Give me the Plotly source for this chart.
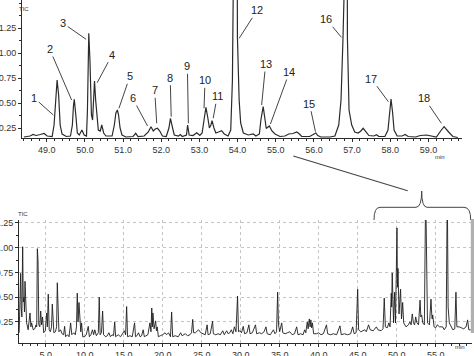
import plotly.graph_objects as go

# ---------------- data ----------------
# Expanded chromatogram, 48.4-59.8 min
top_time = [48.40, 48.56, 48.64, 48.72, 48.83, 48.93, 49.01, 49.14, 49.19, 49.23, 49.27, 49.31, 49.35, 49.40,
            49.51, 49.62, 49.67, 49.70, 49.72, 49.76, 49.80, 49.85, 49.92, 49.98, 50.04, 50.065, 50.09, 50.10,
            50.13, 50.17, 50.20, 50.22, 50.25, 50.28, 50.31, 50.35, 50.40, 50.44, 50.49, 50.55, 50.71, 50.77,
            50.81, 50.85, 50.88, 50.92, 50.97, 51.07, 51.26, 51.33, 51.39, 51.55, 51.66, 51.73, 51.79, 51.84,
            51.90, 51.96, 52.03, 52.13, 52.20, 52.24, 52.29, 52.34, 52.45, 52.50, 52.55, 52.66, 52.69, 52.73,
            52.83, 52.93, 53.01, 53.07, 53.12, 53.17, 53.22, 53.26, 53.30, 53.33, 53.38, 53.43, 53.50, 53.58,
            53.65, 53.75, 53.82, 53.864, 53.885, 53.89, 53.985, 53.995, 54.02, 54.04, 54.08, 54.15, 54.28, 54.37,
            54.41, 54.48, 54.57, 54.61, 54.67, 54.72, 54.75, 54.83, 54.90, 54.98, 55.11, 55.24, 55.34, 55.45,
            55.55, 55.62, 55.68, 55.89, 56.00, 56.05, 56.10, 56.18, 56.42, 56.55, 56.65, 56.71, 56.76, 56.767,
            56.87, 56.877, 56.898, 56.92, 56.99, 57.07, 57.16, 57.23, 57.29, 57.36, 57.44, 57.57, 57.64, 57.70,
            57.86, 57.94, 57.98, 58.02, 58.06, 58.10, 58.18, 58.31, 58.39, 58.47, 58.66, 58.79, 58.95, 59.06,
            59.21, 59.32, 59.41, 59.53, 59.64, 59.77]
top_tic = [0.16, 0.17, 0.185, 0.175, 0.185, 0.195, 0.17, 0.165, 0.28, 0.53, 0.73, 0.58, 0.28, 0.19,
           0.165, 0.17, 0.28, 0.48, 0.537, 0.38, 0.20, 0.18, 0.23, 0.18, 0.17, 0.43, 1.13, 1.197,
           0.93, 0.38, 0.33, 0.53, 0.72, 0.53, 0.40, 0.23, 0.22, 0.28, 0.20, 0.17, 0.17, 0.28,
           0.40, 0.43, 0.38, 0.25, 0.18, 0.16, 0.165, 0.197, 0.165, 0.17, 0.21, 0.263, 0.22, 0.24,
           0.247, 0.22, 0.17, 0.165, 0.25, 0.347, 0.26, 0.18, 0.17, 0.185, 0.165, 0.18, 0.28, 0.18,
           0.175, 0.203, 0.175, 0.20, 0.33, 0.457, 0.35, 0.25, 0.28, 0.323, 0.25, 0.20, 0.21, 0.223,
           0.19, 0.17, 0.23, 0.73, 1.60, 2.80, 2.80, 1.16, 0.73, 0.53, 0.30, 0.20, 0.18, 0.185,
           0.19, 0.17, 0.19, 0.33, 0.463, 0.33, 0.245, 0.27, 0.22, 0.19, 0.165, 0.17, 0.19, 0.195,
           0.21, 0.19, 0.165, 0.165, 0.19, 0.20, 0.175, 0.16, 0.16, 0.17, 0.28, 0.53, 1.13, 2.80,
           2.80, 1.16, 0.68, 0.43, 0.28, 0.21, 0.20, 0.22, 0.247, 0.21, 0.175, 0.17, 0.183, 0.165,
           0.165, 0.23, 0.41, 0.54, 0.41, 0.23, 0.17, 0.17, 0.185, 0.165, 0.16, 0.175, 0.18, 0.17,
           0.16, 0.22, 0.263, 0.21, 0.165, 0.155]

# Full chromatogram, 1.6-59.5 min
bottom_time = [1.60, 1.72, 1.79, 1.86, 1.95, 2.05, 2.13, 2.22, 2.28, 2.35, 2.45, 2.56, 2.75, 2.99, 3.10, 3.20,
               3.40, 3.60, 3.76, 3.85, 3.93, 4.02, 4.12, 4.25, 4.36, 4.48, 4.60, 4.75, 4.95, 5.13, 5.22, 5.33,
               5.45, 5.60, 5.75, 5.85, 5.92, 6.05, 6.25, 6.40, 6.49, 6.57, 6.70, 6.90, 7.10, 7.30, 7.43, 7.55,
               7.80, 8.00, 8.20, 8.35, 8.60, 8.80, 8.95, 9.05, 9.15, 9.27, 9.36, 9.50, 9.60, 9.75, 10.0, 10.2,
               10.46, 10.6, 10.8, 11.0, 11.15, 11.3, 11.5, 11.75, 11.87, 11.98, 12.15, 12.30, 12.42, 12.7, 12.9,
               13.1, 13.3, 13.5, 13.7, 13.85, 13.97, 14.3, 14.6, 14.8, 15.1, 15.25, 15.38, 15.5, 15.8, 16.1,
               16.4, 16.52, 16.7, 16.9, 17.1, 17.3, 17.5, 17.65, 17.9, 18.1, 18.37, 18.5, 18.6, 18.68, 18.75,
               18.9, 19.1, 19.2, 19.3, 19.45, 19.7, 20.0, 20.3, 20.5, 20.75, 21.0, 21.15, 21.28, 21.6, 22.0,
               22.3, 22.5, 22.9, 23.2, 23.5, 23.7, 23.85, 23.97, 24.2, 24.6, 24.9, 25.2, 25.45, 25.7, 25.82,
               26.1, 26.4, 26.5, 26.8, 27.1, 27.4, 27.7, 27.9, 28.2, 28.4, 28.6, 28.8, 29.0, 29.2, 29.4, 29.6,
               29.72, 29.9, 30.1, 30.33, 30.5, 30.8, 31.05, 31.2, 31.5, 31.9, 32.05, 32.4, 32.7, 33.0, 33.24,
               33.4, 33.8, 34.2, 34.4, 34.6, 34.74, 34.85, 35.0, 35.26, 35.4, 35.7, 36.0, 36.3, 36.6, 36.9,
               37.18, 37.35, 37.7, 38.0, 38.2, 38.35, 38.54, 38.65, 38.8, 38.9, 39.0, 39.1, 39.2, 39.35, 39.7,
               40.0, 40.3, 40.6, 41.0, 41.15, 41.5, 41.9, 42.3, 42.73, 42.9, 43.3, 43.7, 44.1, 44.36, 44.55,
               44.8, 45.0, 45.12, 45.4, 45.9, 46.1, 46.4, 46.6, 47.0, 47.4, 47.6, 48.0, 48.25, 48.41, 48.55,
               48.8, 49.0, 49.15, 49.31, 49.36, 49.43, 49.52, 49.6, 49.74, 49.85, 50.04, 50.1, 50.17, 50.3,
               50.5, 50.62, 50.77, 50.9, 51.2, 51.5, 51.7, 51.85, 52.0, 52.15, 52.3, 52.44, 52.6, 52.8, 53.0,
               53.1, 53.2, 53.35, 53.55, 53.72, 53.85, 53.95, 54.2, 54.4, 54.5, 54.55, 54.62, 54.8, 55.0,
               55.2, 55.5, 55.7, 55.9, 56.1, 56.35, 56.49, 56.6, 56.75, 57.0, 57.2, 57.45, 57.6, 57.72, 58.0,
               58.3, 58.6, 58.9, 59.1, 59.25, 59.5]
bottom_tic = [0.14, 0.45, 0.74, 0.40, 0.30, 1.01, 0.45, 0.50, 0.35, 0.66, 0.30, 0.24, 0.17, 0.34, 0.20, 0.24,
              0.17, 0.18, 0.22, 0.20, 0.99, 0.87, 0.22, 0.20, 0.36, 0.22, 0.30, 0.14, 0.16, 0.34, 0.20, 0.53,
              0.17, 0.15, 0.20, 0.43, 0.33, 0.14, 0.15, 0.20, 0.645, 0.30, 0.15, 0.17, 0.13, 0.12, 0.205, 0.10,
              0.12, 0.10, 0.24, 0.12, 0.14, 0.12, 0.20, 0.54, 0.25, 0.446, 0.31, 0.15, 0.24, 0.10, 0.10, 0.12,
              0.205, 0.10, 0.12, 0.17, 0.12, 0.17, 0.11, 0.14, 0.50, 0.12, 0.14, 0.36, 0.12, 0.10, 0.11,
              0.14, 0.10, 0.12, 0.11, 0.25, 0.10, 0.12, 0.10, 0.13, 0.16, 0.12, 0.405, 0.10, 0.11, 0.10,
              0.24, 0.10, 0.11, 0.14, 0.10, 0.11, 0.17, 0.10, 0.11, 0.12, 0.24, 0.15, 0.39, 0.20, 0.34,
              0.18, 0.26, 0.16, 0.20, 0.10, 0.11, 0.12, 0.14, 0.12, 0.14, 0.10, 0.35, 0.10, 0.11, 0.10,
              0.14, 0.11, 0.13, 0.11, 0.12, 0.14, 0.275, 0.14, 0.14, 0.17, 0.14, 0.13, 0.12, 0.22, 0.12,
              0.13, 0.256, 0.13, 0.12, 0.13, 0.12, 0.16, 0.12, 0.16, 0.13, 0.14, 0.17, 0.13, 0.20, 0.15, 0.51,
              0.15, 0.16, 0.14, 0.205, 0.13, 0.14, 0.22, 0.13, 0.14, 0.22, 0.13, 0.14, 0.13, 0.15, 0.20,
              0.13, 0.12, 0.17, 0.13, 0.15, 0.55, 0.22, 0.15, 0.24, 0.14, 0.13, 0.14, 0.15, 0.12, 0.13,
              0.20, 0.12, 0.13, 0.12, 0.17, 0.14, 0.25, 0.18, 0.28, 0.20, 0.27, 0.19, 0.24, 0.13, 0.13,
              0.14, 0.12, 0.13, 0.22, 0.13, 0.12, 0.13, 0.12, 0.21, 0.12, 0.13, 0.12, 0.13, 0.20, 0.13,
              0.14, 0.58, 0.17, 0.15, 0.17, 0.15, 0.22, 0.17, 0.16, 0.20, 0.17, 0.16, 0.18, 0.49, 0.20,
              0.19, 0.24, 0.20, 0.54, 0.40, 0.745, 0.30, 0.24, 0.55, 0.24, 1.20, 0.60, 0.79, 0.33,
              0.58, 0.28, 0.446, 0.24, 0.20, 0.22, 0.25, 0.22, 0.33, 0.24, 0.22, 0.30, 0.24, 0.22, 0.47,
              0.30, 0.32, 0.24, 0.22, 1.60, 0.40, 0.24, 0.22, 0.48, 0.32, 0.28, 0.32, 0.20, 0.19,
              0.22, 0.20, 0.20, 0.20, 0.17, 0.20, 1.60, 0.40, 0.24, 0.20, 0.17, 0.18, 0.55, 0.20, 0.20,
              0.19, 0.18, 0.20, 0.27, 0.17, 0.17]

peak_labels = [str(i) for i in range(1, 19)]
peak_tip_time = [49.17, 49.65, 50.03, 50.32, 50.89, 51.64, 51.88, 52.26, 52.71, 53.12, 53.36, 54.04,
                 54.63, 54.86, 56.04, 56.72, 57.95, 59.34]
peak_tip_tic = [0.38, 0.53, 1.137, 0.703, 0.447, 0.27, 0.297, 0.363, 0.297, 0.447, 0.347, 1.147,
                0.48, 0.29, 0.213, 1.157, 0.513, 0.297]

y_tick_vals = [0.25, 0.50, 0.75, 1.00, 1.25]
y_tick_text = ["0.25", "0.50", "0.75", "1.00", "1.25"]
top_x_ticks = [49.0, 50.0, 51.0, 52.0, 53.0, 54.0, 55.0, 56.0, 57.0, 58.0, 59.0]
bottom_x_ticks = [5.0, 10.0, 15.0, 20.0, 25.0, 30.0, 35.0, 40.0, 45.0, 50.0, 55.0]

# ---------------- layout helpers (pixel -> paper) ----------------
W, H = 474, 356
def PX(x):
    return x / W
def PY(y):
    return 1 - y / H

# label offsets (pixels) of the peak numbers from their leader tips
label_dx = [-19, -22, -23, 15, 11, -15, -2, -1, -1, 1, 4, 18, 4, 19, -6, -15, -17, -17]
label_dy = [-17, -51, -16, -28, -32, -28, -33, -39, -57, -28, -22, -28, -41, -52, -28, -18, -23, -25]

ink = "#2b2b2b"
font_family = "Arial, Liberation Sans, sans-serif"

fig = go.Figure()
fig.add_trace(go.Scatter(x=top_time, y=top_tic, mode="lines",
                         line=dict(color=ink, width=1.2), xaxis="x", yaxis="y",
                         hoverinfo="skip", showlegend=False))
fig.add_trace(go.Scatter(x=bottom_time, y=bottom_tic, mode="lines",
                         line=dict(color="#1e1e1e", width=0.9), xaxis="x2", yaxis="y2",
                         hoverinfo="skip", showlegend=False))

axis_font = dict(family=font_family, size=9, color="#333")

fig.update_layout(
    template="none",
    width=W, height=H, margin=dict(l=0, r=0, t=0, b=0, autoexpand=False),
    paper_bgcolor="white", plot_bgcolor="white", showlegend=False,
    xaxis=dict(domain=[PX(22), PX(462)], range=[48.35, 59.88], anchor="y", automargin=False,
               tickvals=top_x_ticks, ticktext=[f"{v:.1f}" for v in top_x_ticks],
               showline=True, linecolor=ink, linewidth=1, showgrid=False, zeroline=False,
               ticks="outside", ticklen=3, tickcolor=ink, tickfont=axis_font,
               minor=dict(ticks="outside", dtick=0.2, ticklen=2, tickcolor=ink, showgrid=False)),
    yaxis=dict(domain=[PY(138.3), 1.0], range=[0.147, 1.53], anchor="x", automargin=False,
               tickvals=y_tick_vals, ticktext=y_tick_text,
               showline=True, linecolor=ink, linewidth=1, showgrid=False, zeroline=False,
               ticks="outside", ticklen=3, tickcolor=ink, tickfont=axis_font,
               minor=dict(ticks="outside", dtick=0.125, ticklen=2, tickcolor=ink, showgrid=False)),
    xaxis2=dict(domain=[PX(19), PX(471.7)], range=[1.58, 59.62], anchor="y2", automargin=False,
                tickvals=bottom_x_ticks, ticktext=[f"{v:.1f}" for v in bottom_x_ticks],
                showline=True, linecolor=ink, linewidth=1, zeroline=False,
                showgrid=True, gridcolor="#c4c4c4", griddash="dot", gridwidth=1,
                ticks="outside", ticklen=3, tickcolor=ink, tickfont=axis_font,
                minor=dict(ticks="outside", dtick=1, ticklen=2, tickcolor=ink, showgrid=False)),
    yaxis2=dict(domain=[PY(343.3), PY(220)], range=[0.0335, 1.2796], anchor="x2", automargin=False,
                tickvals=y_tick_vals, ticktext=y_tick_text,
                showline=True, linecolor=ink, linewidth=1, zeroline=False,
                showgrid=True, gridcolor="#c4c4c4", griddash="dot", gridwidth=1,
                ticks="outside", ticklen=3, tickcolor=ink, tickfont=axis_font,
                minor=dict(ticks="outside", dtick=0.125, ticklen=2, tickcolor=ink, showgrid=False)),
    hovermode=False,
)

annotations = []
for lab, t, v, dx, dy in zip(peak_labels, peak_tip_time, peak_tip_tic, label_dx, label_dy):
    annotations.append(dict(x=t, y=v, xref="x", yref="y", text=lab, showarrow=True,
                            arrowhead=0, arrowwidth=1, arrowcolor="#444", standoff=0,
                            ax=dx, ay=dy, font=dict(family=font_family, size=11, color="#222")))
small = dict(family=font_family, size=6, color="#333")
annotations += [
    dict(x=PX(17), y=PY(4), xref="paper", yref="paper", text="TIC", showarrow=False, font=small),
    dict(x=PX(16), y=PY(214), xref="paper", yref="paper", text="TIC", showarrow=False, font=small),
    dict(x=PX(447), y=PY(157), xref="paper", yref="paper", text="min", showarrow=False,
         font=dict(family=font_family, size=6, color="#333")),
    dict(x=PX(467), y=PY(352), xref="paper", yref="paper", text="min", showarrow=False,
         font=dict(family=font_family, size=6, color="#333")),
]
fig.update_layout(annotations=annotations)

def P(x, y):
    return f"{PX(x):.5f},{PY(y):.5f}"

brace = ("M " + P(374, 220) + " Q " + P(374, 207.3) + " " + P(380, 207.3) +
         " L " + P(416, 207.3) + " Q " + P(421.7, 207.3) + " " + P(421.7, 191) +
         " Q " + P(421.7, 207.3) + " " + P(427, 207.3) +
         " L " + P(464, 207.3) + " Q " + P(470.7, 207.3) + " " + P(470.7, 220))
fig.update_layout(shapes=[
    dict(type="path", path=brace, xref="paper", yref="paper", line=dict(color="#444", width=1)),
    dict(type="line", xref="paper", yref="paper", x0=PX(293.3), y0=PY(156), x1=PX(407.7), y1=PY(190.7),
         line=dict(color="#444", width=1.1)),
    dict(type="rect", xref="paper", yref="paper", x0=PX(470.8), x1=PX(474), y0=PY(333), y1=PY(219),
         fillcolor="#b0b0b0", line=dict(width=0)),
])

fig.write_html("out.html", config={"displayModeBar": False},
               post_script="document.body.style.margin='0px';document.body.style.overflow='hidden';")
